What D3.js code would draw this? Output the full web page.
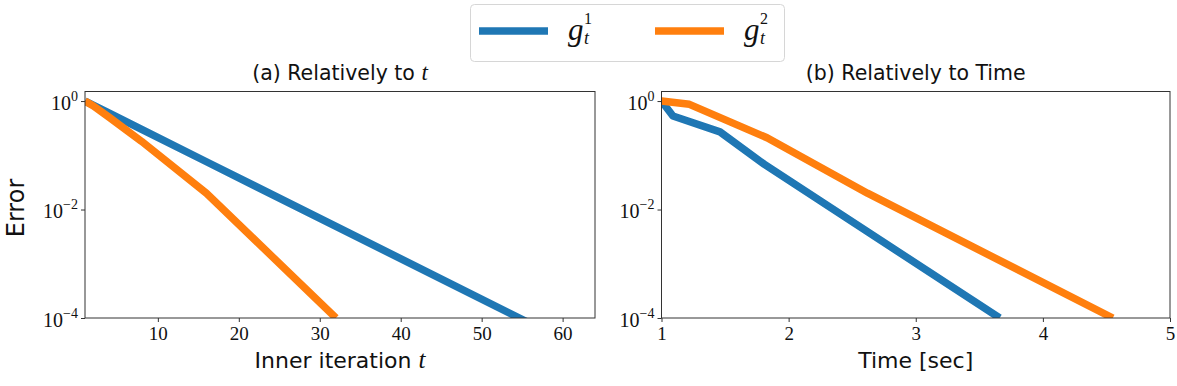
<!DOCTYPE html>
<html>
<head>
<meta charset="utf-8">
<script src="https://cdn.jsdelivr.net/npm/d3@7"></script>
<style>
  body { margin: 0; background: #fff; }
  svg text { fill: #111; }
  .tick text { font-family: "Liberation Serif", serif; }
  .lbl { font-family: "DejaVu Sans", sans-serif; }
  .math { font-family: "Liberation Serif", serif; }
</style>
</head>
<body>
<div id="chart"></div>
<script>
// (a) error vs inner iteration t
const iterG1 = [1, 2, 4, 8, 16, 32, 64];
const errIterG1 = [1, 0.84, 0.6, 0.3, 0.076, 0.0049, 0.00002];
const iterG2 = [1, 2, 4, 8, 16, 32];
const errIterG2 = [1, 0.82, 0.5, 0.18, 0.02, 0.0001];

// (b) error vs time [sec]
const timeG1 = [1.0, 1.09, 1.46, 1.81, 3.66];
const errTimeG1 = [1, 0.53, 0.27, 0.068, 0.0001];
const timeG2 = [1.0, 1.22, 1.83, 2.62, 4.55];
const errTimeG2 = [1, 0.87, 0.21, 0.02, 0.0001];

const iterTicks = [10, 20, 30, 40, 50, 60];
const timeTicks = [1, 2, 3, 4, 5];
const errTicks = [1, 1e-2, 1e-4];
const errTickExp = ["0", "\u22122", "\u22124"];

const blue = "#1f77b4", orange = "#ff7f0e";
const W = 1177, H = 386;
const plotTop = 91.5, plotBottom = 318;

const svg = d3.select("#chart").append("svg")
    .attr("width", W).attr("height", H);

function panel(id, x0, x1, xDomain, xTicks, series, title, xlabel) {
    const x = d3.scaleLinear().domain(xDomain).range([x0, x1]);
    const y = d3.scaleLog().domain([1e-4, 1.5]).range([plotBottom, plotTop]);

    svg.append("clipPath").attr("id", id)
        .append("rect").attr("x", x0).attr("y", plotTop)
        .attr("width", x1 - x0).attr("height", plotBottom - plotTop);

    const line = d3.line().x(d => x(d[0])).y(d => y(d[1]));
    series.forEach(s => {
        svg.append("path")
            .datum(d3.zip(s.xs, s.ys))
            .attr("clip-path", `url(#${id})`)
            .attr("fill", "none")
            .attr("stroke", s.color)
            .attr("stroke-width", 7.5)
            .attr("stroke-linejoin", "round")
            .attr("d", line);
    });

    // frame
    svg.append("rect")
        .attr("x", x0).attr("y", plotTop)
        .attr("width", x1 - x0).attr("height", plotBottom - plotTop)
        .attr("fill", "none").attr("stroke", "#333").attr("stroke-width", 1);

    const xa = svg.append("g")
        .attr("transform", `translate(0,${plotBottom})`)
        .call(d3.axisBottom(x).tickValues(xTicks).tickSize(4).tickPadding(5).tickFormat(d3.format("d")));
    xa.select(".domain").remove();
    xa.selectAll(".tick line").attr("stroke", "#333");
    xa.selectAll(".tick text").attr("font-size", 19).attr("fill", "#222");

    const ya = svg.append("g")
        .attr("transform", `translate(${x0},0)`)
        .call(d3.axisLeft(y).tickValues(errTicks).tickSize(4).tickFormat(""));
    ya.select(".domain").remove();
    ya.selectAll(".tick line").attr("stroke", "#333");
    ya.selectAll(".tick").append("text")
        .attr("x", -7).attr("dy", "0.4em")
        .attr("text-anchor", "end")
        .attr("font-size", 20).attr("fill", "#222")
        .each(function (d, i) {
            const t = d3.select(this);
            t.append("tspan").text("10");
            t.append("tspan").attr("dy", -9).attr("font-size", 14).text(errTickExp[i]);
        });

    const cx = (x0 + x1) / 2;
    const tt = svg.append("text").attr("class", "lbl").attr("x", cx).attr("y", 80)
        .attr("text-anchor", "middle").attr("font-size", 20.5);
    tt.append("tspan").text(title[0]);
    if (title[1]) tt.append("tspan").attr("class", "math")
        .attr("font-style", "italic").attr("font-size", 23).text(title[1]);

    const xl = svg.append("text").attr("class", "lbl").attr("x", cx).attr("y", 368)
        .attr("text-anchor", "middle").attr("font-size", 22);
    xl.append("tspan").text(xlabel[0]);
    if (xlabel[1]) xl.append("tspan").attr("class", "math")
        .attr("font-style", "italic").attr("font-size", 25).text(xlabel[1]);
}

panel("clipA", 85, 595, [1, 64], iterTicks,
    [{ xs: iterG1, ys: errIterG1, color: blue }, { xs: iterG2, ys: errIterG2, color: orange }],
    ["(a) Relatively to ", "t"], ["Inner iteration ", "t"]);

panel("clipB", 661.5, 1170, [1, 5], timeTicks,
    [{ xs: timeG1, ys: errTimeG1, color: blue }, { xs: timeG2, ys: errTimeG2, color: orange }],
    ["(b) Relatively to Time"], ["Time [sec]"]);

svg.append("text").attr("class", "lbl")
    .attr("transform", "translate(24,208) rotate(-90)")
    .attr("text-anchor", "middle").attr("font-size", 24)
    .text("Error");

// legend
const legend = svg.append("g");
legend.append("rect")
    .attr("x", 470.5).attr("y", 4.5).attr("width", 314).attr("height", 57)
    .attr("rx", 4).attr("fill", "#fff").attr("stroke", "#d6d6d6");

const legendItems = [
    { color: blue, x: 479, sup: "1" },
    { color: orange, x: 655, sup: "2" }
];
legendItems.forEach(it => {
    legend.append("line")
        .attr("x1", it.x).attr("x2", it.x + 69).attr("y1", 31).attr("y2", 31)
        .attr("stroke", it.color).attr("stroke-width", 7.5);
    const lx = it.x + 89;
    legend.append("text").attr("class", "math").attr("x", lx).attr("y", 40)
        .attr("font-style", "italic").attr("font-size", 31).text("g");
    legend.append("text").attr("class", "math").attr("x", lx + 16).attr("y", 24)
        .attr("font-size", 16).text(it.sup);
    legend.append("text").attr("class", "math").attr("x", lx + 16).attr("y", 44)
        .attr("font-style", "italic").attr("font-size", 18).text("t");
});
</script>
</body>
</html>
